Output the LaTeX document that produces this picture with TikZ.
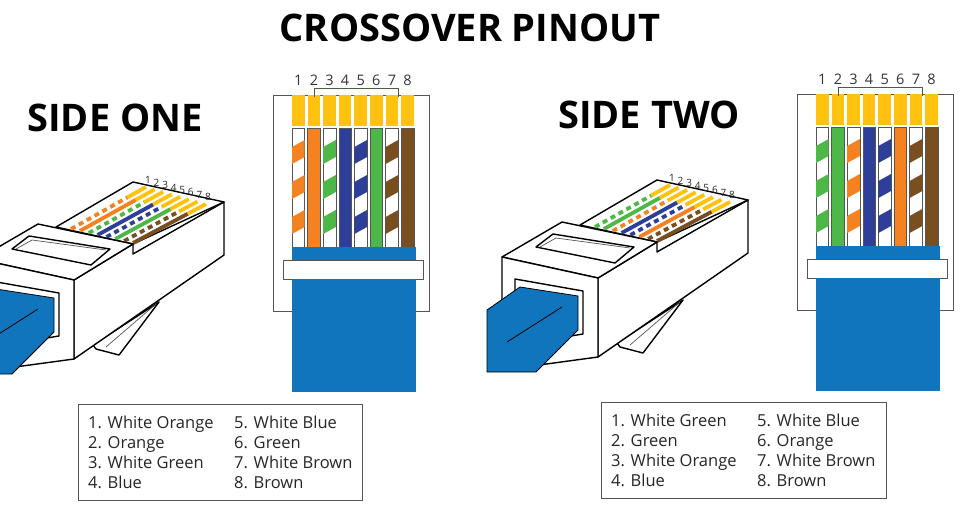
\documentclass[tikz,border=0pt]{standalone}
\usepackage{fontspec}
\setmainfont{Open Sans}
\usetikzlibrary{calc}
\definecolor{ora}{HTML}{F58220}
\definecolor{grn}{HTML}{4DB848}
\definecolor{blu}{HTML}{2E3F99}
\definecolor{brn}{HTML}{7A4F1F}
\definecolor{yel}{HTML}{FFC20E}
\definecolor{cab}{HTML}{1075BC}
\definecolor{gry}{HTML}{555555}
\tikzset{
  outl/.style={draw=black,line width=1.4pt,line join=round},
  thinl/.style={draw=gry,line width=0.7pt},
  legend/.style={draw=gry,line width=0.8pt,fill=white},
  legtext/.style={anchor=base west,font=\fontsize{16.5}{18}\selectfont,text=black!85,inner sep=0pt},
  pinnum/.style={font=\fontsize{14.5}{15}\selectfont,text=black!80},
  pinnumsm/.style={font=\fontsize{10}{10}\selectfont,text=black!85,inner sep=0pt},
  heading/.style={font=\bfseries\fontsize{38}{40}\selectfont},
}
\begin{document}
\begin{tikzpicture}[x=1pt,y=-1pt]
\useasboundingbox (0,0) rectangle (975,512);
\clip (0,0) rectangle (975,512);
\node[heading] (title) at (470,28) {CROSSOVER PINOUT};
\node[heading] (s1) at (115,118) {SIDE ONE};
\node[heading] (s2) at (649,115) {SIDE TWO};

% ---------- 3D plugs ----------
\foreach \dx/\dy/\wl in {-524/2/{1/ora/1,2/ora/0,3/grn/1,4/blu/0,5/blu/1,6/grn/0,7/brn/1,8/brn/0},
                          0/0/{1/grn/1,2/grn/0,3/ora/1,4/blu/0,5/blu/1,6/ora/0,7/brn/1,8/brn/0}}{
\begin{scope}[shift={(\dx,\dy)}]
  % latch
  \path[outl,fill=white] (617,343) -- (683,300) -- (643,353) -- (620,347) -- cycle;
  \draw[thinl] (630,345) -- (680,302);
  % right face
  \path[outl,fill=white] (598,278) -- (657,242) -- (657,252) -- (748,200) -- (748,253) -- (598,357) -- cycle;
  % carrier top
  \path[outl,fill=white] (580,225) -- (657,180) -- (748,200) -- (657,242) -- cycle;
  % wires
  \foreach \i/\c/\w in \wl {
    \pgfmathsetmacro\t{(\i-1)/7}
    \coordinate (ws\i) at ($(595,227)!\t!(657,241)$);
    \coordinate (we\i) at ($(670,185)!\t!(730,202)$);
    \coordinate (wm\i) at ($(ws\i)!0.75!(we\i)$);
    \ifnum\w=1
      \draw[white,line width=3.8pt] (ws\i) -- (wm\i);
      \draw[\c,line width=3.8pt,dash pattern=on 5pt off 4pt] (ws\i) -- (wm\i);
    \else
      \draw[\c,line width=3.8pt] (ws\i) -- (wm\i);
    \fi
    \draw[yel,line width=3.8pt] (wm\i) -- (we\i);
    \node[pinnumsm,anchor=south] (pn\i) at ($(we\i)+(2,-3)$) {\i};
  }
  % cover top face
  \path[outl,fill=white] (502,257) -- (562,222) -- (657,242) -- (598,278) -- cycle;
  \path[outl,fill=white] (536,247) -- (553,234) -- (634,247) -- (615,263) -- cycle;
  \draw[thinl] (540,247) -- (556,238) -- (630,248);
  % front face
  \path[outl,fill=white] (502,257) -- (598,278) -- (598,357) -- (502,370) -- cycle;
  \path[outl,fill=white] (515,279) -- (583,291) -- (583,334) -- (515,345) -- cycle;
  % cable
  \path[fill=cab,draw=black,line width=0.8pt] (487,310) -- (520,287) -- (578,296) -- (578,330) -- (536,372) -- (487,372) -- cycle;
  \draw[black,line width=0.8pt] (507,342) -- (562,307);
\end{scope}}

% ---------- front views ----------
\foreach \dx/\dy/\wl in {0/0/{1/ora/1,2/ora/0,3/grn/1,4/blu/0,5/blu/1,6/grn/0,7/brn/1,8/brn/0},
                          524/-1/{1/grn/1,2/grn/0,3/ora/1,4/blu/0,5/blu/1,6/ora/0,7/brn/1,8/brn/0}}{
\begin{scope}[shift={(\dx,\dy)}]
  \path[thinl,fill=white] (273,95) rectangle (429,311);
  \foreach \i/\c/\w in \wl {
    \pgfmathsetmacro\xa{292+(\i-1)*15.6}
    \pgfmathsetmacro\xb{\xa+12.6}
    \fill[yel] (\xa,95) rectangle (\xb,126);
    \ifnum\w=1
      \path[draw=gry,line width=0.4pt,fill=white] (\xa,128) rectangle (\xb,247);
      \begin{scope}
        \clip (\xa,128) rectangle (\xb,247);
        \foreach \yy in {140,175,210}
          \fill[\c] (\xa,\yy+7) -- (\xb,\yy) -- (\xb,\yy+17) -- (\xa,\yy+24) -- cycle;
      \end{scope}
    \else
      \path[draw=gry,line width=0.4pt,fill=\c] (\xa,128) rectangle (\xb,247);
    \fi
    \node[pinnum] (fn\i) at ({\xa+6.3},80) {\i};
  }
  \draw[thinl] (314,97) -- (314,88) -- (398,88) -- (398,97);
  \fill[cab] (292,247) rectangle (416,260);
  \path[thinl,fill=white] (283,260) rectangle (423,279);
  \fill[cab] (292,279) rectangle (416,392);
\end{scope}}

% ---------- legends ----------
\node[legend,minimum width=284pt,minimum height=96pt,anchor=north west] (leg1) at (78,404) {};
\node[legtext] (l1a) at (88,428) {1. White Orange};
\node[legtext] (l1b) at (88,448) {2. Orange};
\node[legtext] (l1c) at (88,468) {3. White Green};
\node[legtext] (l1d) at (88,488) {4. Blue};
\node[legtext] (l1e) at (234,428) {5. White Blue};
\node[legtext] (l1f) at (234,448) {6. Green};
\node[legtext] (l1g) at (234,468) {7. White Brown};
\node[legtext] (l1h) at (234,488) {8. Brown};
\node[legend,minimum width=285pt,minimum height=96pt,anchor=north west] (leg2) at (601,402) {};
\node[legtext] (l2a) at (611,426) {1. White Green};
\node[legtext] (l2b) at (611,446) {2. Green};
\node[legtext] (l2c) at (611,466) {3. White Orange};
\node[legtext] (l2d) at (611,486) {4. Blue};
\node[legtext] (l2e) at (757,426) {5. White Blue};
\node[legtext] (l2f) at (757,446) {6. Orange};
\node[legtext] (l2g) at (757,466) {7. White Brown};
\node[legtext] (l2h) at (757,486) {8. Brown};
\end{tikzpicture}
\end{document}
